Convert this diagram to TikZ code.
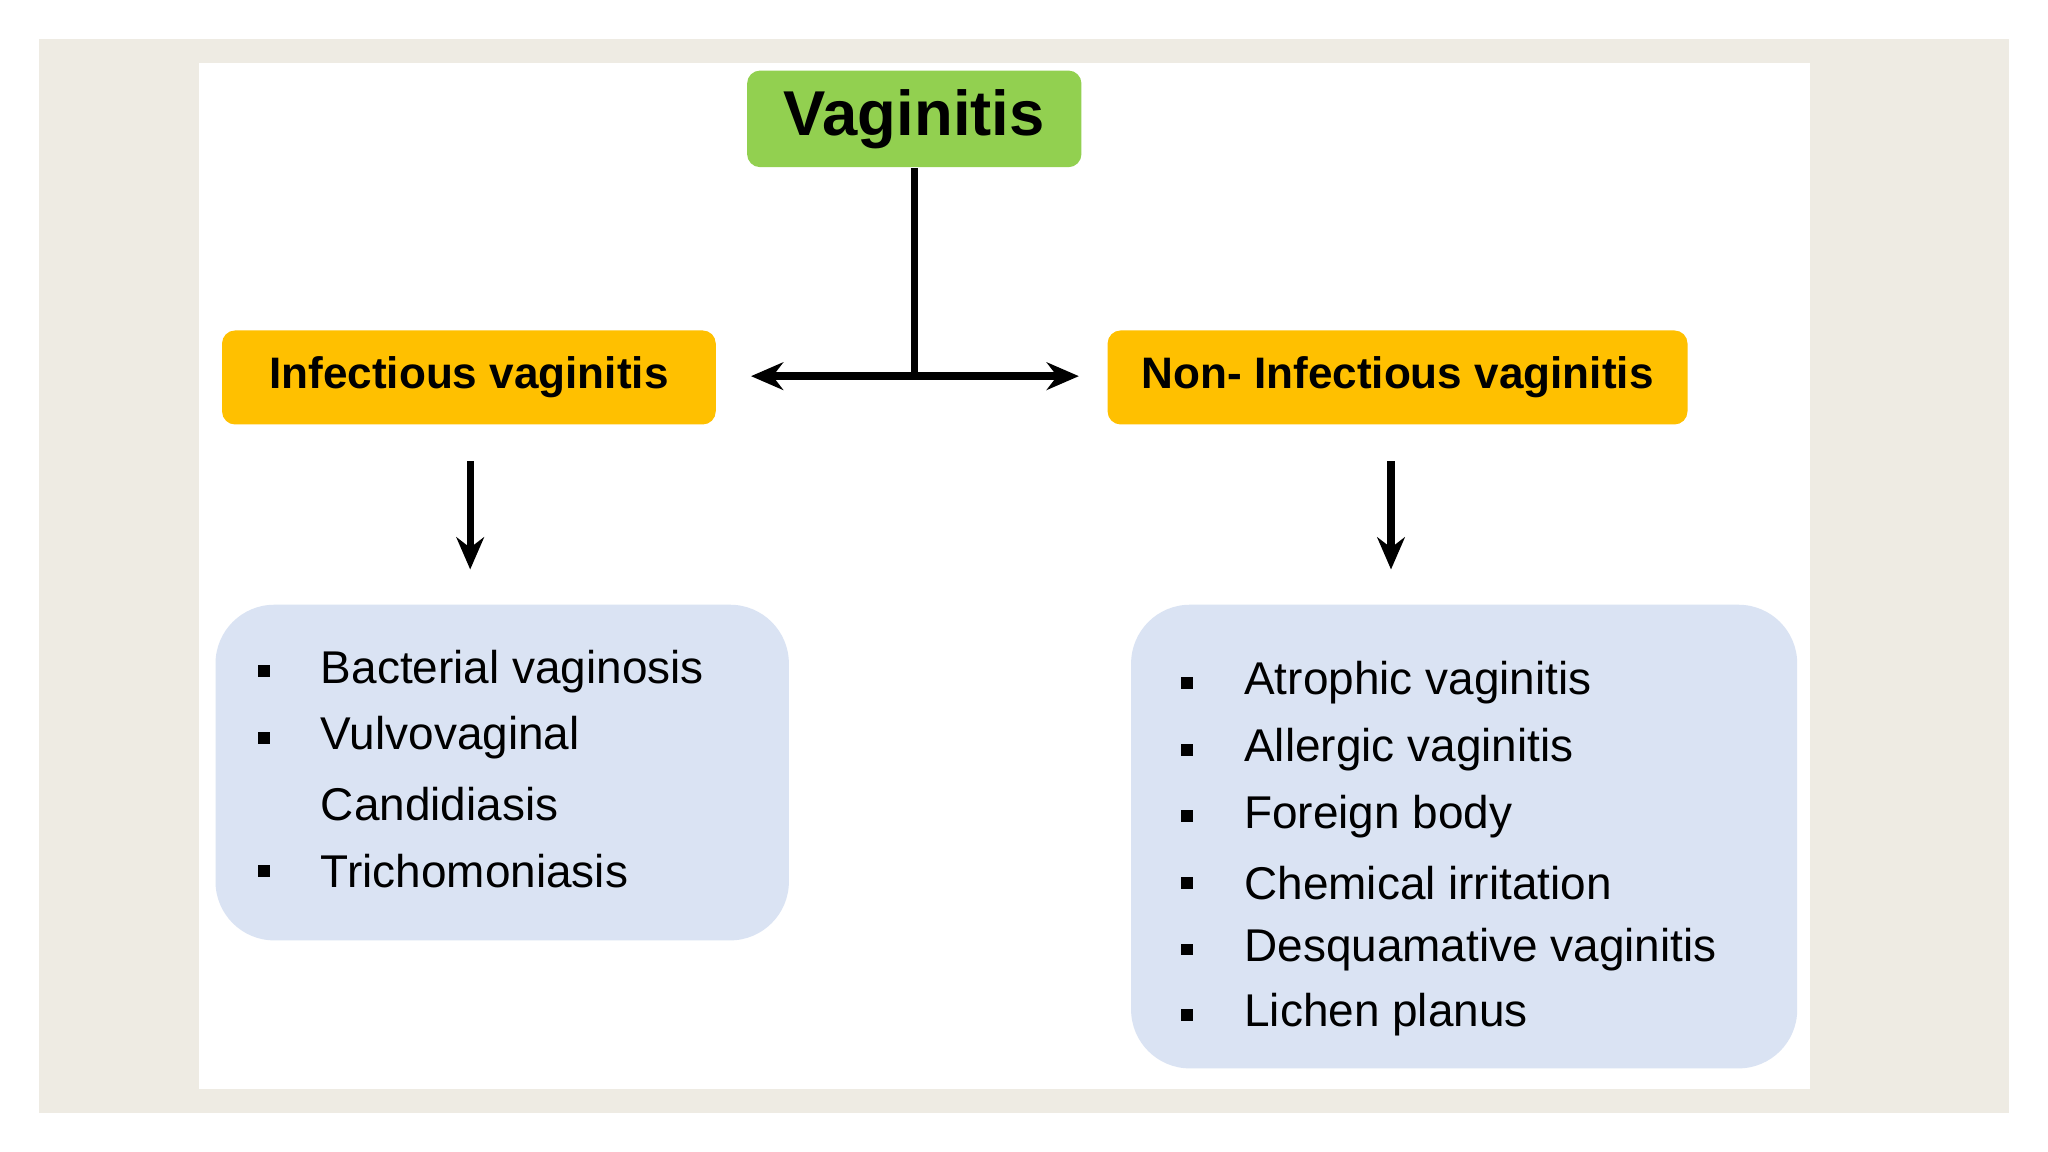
\documentclass[tikz,border=0pt]{standalone}
\usepackage{fontspec}
\setmainfont{Liberation Sans}
\usetikzlibrary{arrows.meta}
\definecolor{bg}{HTML}{EEEBE3}
\definecolor{grn}{HTML}{92D050}
\definecolor{org}{HTML}{FFC000}
\definecolor{blu}{HTML}{DAE3F3}
\begin{document}
\begin{tikzpicture}[x=0.01cm,y=-0.01cm,
 head/.style={fill=org,rounded corners=0.1cm,font=\bfseries\fontsize{9.6}{11}\selectfont,inner sep=0},
 lst/.style={fill=blu,rounded corners=0.45cm},
 itm/.style={anchor=west,font=\fontsize{10}{12}\selectfont,inner sep=0},
 bul/.style={fill=black,minimum size=0.09cm,inner sep=0},
 arr/.style={line width=1.6pt,-{Stealth[length=7pt,width=6pt]}}]
\useasboundingbox (0,0) rectangle (1568,882);
\fill[white] (0,0) rectangle (1568,882);
\fill[bg] (30,30) rectangle (1538,852);
\fill[white] (152,48) rectangle (1386,834);
\node[fill=grn,rounded corners=0.1cm,minimum width=256*0.01cm,minimum height=74*0.01cm,font=\bfseries\fontsize{13.8}{15}\selectfont] (v) at (700,91) {Vaginitis};
\node[head,minimum width=378*0.01cm,minimum height=72*0.01cm] (inf) at (359,289) {Infectious vaginitis};
\node[head,minimum width=444*0.01cm,minimum height=72*0.01cm] (non) at (1070,289) {Non- Infectious vaginitis};
\coordinate (j) at (700,288);
\coordinate (la) at (575,288);
\coordinate (ra) at (826,288);
\draw[line width=1.6pt] (v.south) -- (j);
\draw[arr] (j) -- (la);
\draw[arr] (j) -- (ra);
\coordinate (d1) at (360,353); \coordinate (d1e) at (360,436);
\coordinate (d2) at (1065,353); \coordinate (d2e) at (1065,436);
\draw[arr] (d1) -- (d1e);
\draw[arr] (d2) -- (d2e);
\path[lst] (165,463) rectangle (604,720);
\path[lst] (866,463) rectangle (1376,818);
\foreach \y in {514,565,667}{
 \node[bul] at (202,\y) {};}
\foreach \y/\t/\n in {514/Bacterial vaginosis/a,565/Vulvovaginal/b,616/Candidiasis/c,667/Trichomoniasis/d}{
 \node[itm] (l\n) at (245,\y) {\t};}
\foreach \y/\t/\n in {523/Atrophic vaginitis/a,574/Allergic vaginitis/b,625/Foreign body/c,676/Chemical irritation/d,727/Desquamative vaginitis/e,777/Lichen planus/f}{
 \node[bul] at (909,\y) {};
 \node[itm] (r\n) at (952,\y) {\t};}
\end{tikzpicture}
\end{document}
